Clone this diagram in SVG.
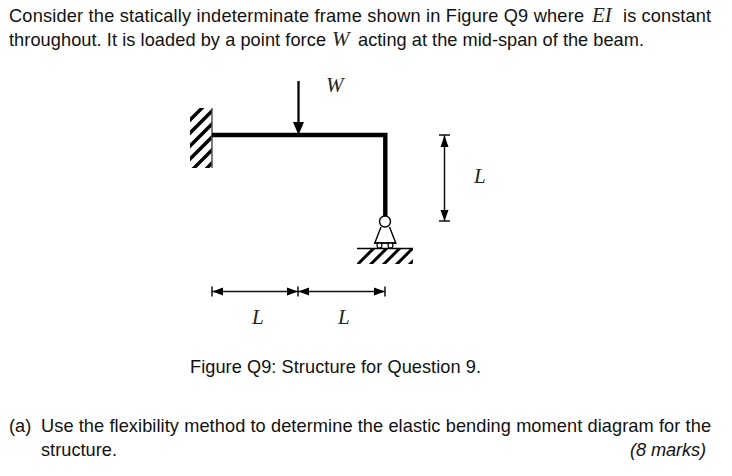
<svg xmlns="http://www.w3.org/2000/svg" width="732" height="476" viewBox="0 0 732 476">
<style>
.t{font-family:"Liberation Sans",Arial,sans-serif;font-size:18.2px;fill:#111}
.m{font-family:"Liberation Serif","Times New Roman",serif;font-size:21px;font-style:italic;fill:#222}
.h{stroke:#000;stroke-width:3.4;fill:none}
.g{stroke:#000;stroke-width:3;fill:none}
.d{stroke:#111;stroke-width:1.5;fill:none}
.hd{fill:#000;stroke:none}
</style>
<defs>
<clipPath id="cw"><rect x="190" y="108" width="22" height="60"/></clipPath>
<clipPath id="cg"><rect x="357" y="248" width="56" height="16"/></clipPath>
</defs>
<rect width="732" height="476" fill="#fff"/>
<g id="text-intro">
<text class="t" x="9" y="22" textLength="575" lengthAdjust="spacing">Consider the statically indeterminate frame shown in Figure Q9 where</text>
<text class="m" x="592" y="22" font-size="24">EI</text>
<text class="t" x="623" y="22" textLength="88" lengthAdjust="spacing">is constant</text>
<text class="t" x="9" y="46" textLength="317" lengthAdjust="spacing">throughout. It is loaded by a point force</text>
<text class="m" x="332" y="46" font-size="24">W</text>
<text class="t" x="358" y="46" textLength="286" lengthAdjust="spacing">acting at the mid-span of the beam.</text>
</g>
<g id="wall">
<g clip-path="url(#cw)"><path class="h" d="M180 130L212 98M180 143L222 101M180 156L222 114M180 169L222 127M180 182L222 140M180 195L222 153M180 208L222 166"/></g>
<line x1="212" y1="108" x2="212" y2="168" stroke="#555" stroke-width="1.5"/>
</g>
<g id="frame"><path d="M212 135H385.300V217" fill="none" stroke="#000" stroke-width="4.4"/></g>
<g id="support">
<path d="M381 227L374.800 243H395.800L389.500 227" fill="#fff" stroke="#000" stroke-width="1.4"/>
<line x1="374" y1="243" x2="396" y2="243" stroke="#000" stroke-width="1.4"/>
<circle cx="385" cy="221.500" r="5.500" fill="#fff" stroke="#000" stroke-width="1.400"/>
<circle cx="379.500" cy="245.500" r="2.500" fill="#fff" stroke="#000" stroke-width="1.200"/>
<circle cx="390.500" cy="245.500" r="2.500" fill="#fff" stroke="#000" stroke-width="1.200"/>
<line x1="357" y1="248.500" x2="413" y2="248.500" stroke="#000" stroke-width="1.400"/>
<g clip-path="url(#cg)"><path class="g" d="M345 277L377 245M358 277L390 245M371 277L403 245M384 277L416 245M397 277L429 245M410 277L442 245"/></g>
</g>
<g id="connectors">
<g id="load"><line x1="298.500" y1="81" x2="298.500" y2="124" stroke="#000" stroke-width="2.300"/><path class="hd" d="M293 122H304L298.500 135Z"/></g>
<g id="dim-vertical">
<path class="d" d="M444.500 135V221M439 135H450M439 221H450"/>
<path class="hd" d="M444.500 135.500L448.500 147H440.500ZM444.500 221L448.500 210H440.500Z"/>
</g>
<g id="dim-horizontal">
<path class="d" d="M212 291.500H385M212 286.500V296.500M298 286.500V296.500M385 286.500V296.500"/>
<path class="hd" d="M212.500 291.500L223 287.500V295.500ZM298 291.500L287 287.500V295.500ZM298.500 291.500L309 287.500V295.500ZM385 291.500L374 287.500V295.500Z"/>
</g>
</g>
<g id="labels">
<text class="m" x="326" y="92" font-size="24">W</text>
<text class="m" x="474" y="183">L</text>
<text class="m" x="252" y="324">L</text>
<text class="m" x="338" y="324">L</text>
<text class="t" x="190" y="373" textLength="291" lengthAdjust="spacing">Figure Q9: Structure for Question 9.</text>
</g>
<g id="text-question">
<text class="t" x="9" y="432">(a)</text>
<text class="t" x="41" y="432" textLength="670" lengthAdjust="spacing">Use the flexibility method to determine the elastic bending moment diagram for the</text>
<text class="t" x="41" y="456" textLength="76" lengthAdjust="spacing">structure.</text>
<text class="t" x="630" y="456" font-style="italic" textLength="76" lengthAdjust="spacing">(8 marks)</text>
</g>
</svg>
